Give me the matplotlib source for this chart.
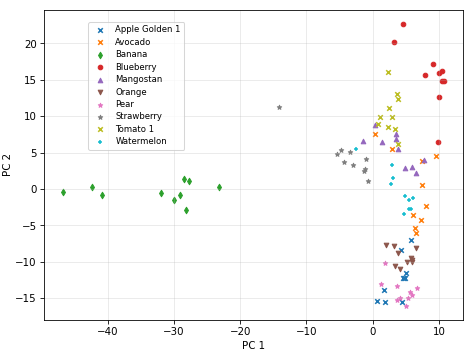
import matplotlib
matplotlib.use("Agg")
import matplotlib.pyplot as plt

# PCA projection of fruit image features, one list pair per class
apple_x = [5.8, 4.2, 4.96, 4.6, 4.85, 4.7, 1.65, 0.7, 1.85, 4.4]
apple_y = [-6.95, -8.45, -11.5, -12.25, -12.25, -12.3, -13.9, -15.45, -15.55, -15.55]

avocado_x = [0.4, 2.96, 9.5, 7.4, 7.37, 8.0, 6.1, 7.27, 6.3, 6.47]
avocado_y = [7.57, 5.56, 4.56, 3.83, 0.5, -2.28, -3.6, -4.29, -5.38, -6.06]

banana_x = [-46.7, -42.3, -40.9, -32.0, -30.0, -29.1, -28.4, -27.7, -28.2, -23.2]
banana_y = [-0.36, 0.31, -0.77, -0.55, -1.5, -0.77, 1.33, 1.1, -2.83, 0.31]

blueberry_x = [4.56, 3.16, 9.1, 7.9, 10.0, 10.45, 10.5, 10.7, 10.0, 9.85]
blueberry_y = [22.7, 20.15, 17.2, 15.7, 15.96, 16.2, 14.8, 14.9, 12.7, 6.47]

mangostan_x = [0.4, -1.45, 1.4, 3.5, 3.46, 3.76, 7.8, 4.8, 5.86, 6.57]
mangostan_y = [8.75, 6.57, 6.47, 7.5, 6.93, 5.43, 3.97, 2.83, 3.05, 2.23]

orange_x = [2.0, 3.18, 3.8, 6.48, 5.8, 5.9, 5.1, 5.97, 3.35, 4.13]
orange_y = [-7.7, -7.78, -8.8, -8.1, -9.45, -9.7, -10.0, -10.05, -10.6, -10.95]

pear_x = [1.8, 1.3, 3.63, 6.63, 5.58, 5.88, 5.3, 4.16, 3.7, 4.96]
pear_y = [-10.2, -13.08, -13.3, -13.65, -14.1, -14.58, -14.92, -15.02, -15.2, -16.05]

strawberry_x = [-14.2, -5.46, -4.8, -3.4, -4.3, -3.05, -1.05, -1.35, -1.2, -0.65]
strawberry_y = [11.26, 4.75, 5.3, 5.06, 3.73, 3.33, 4.06, 2.5, 2.7, 1.14]

tomato_x = [2.3, 3.65, 3.76, 2.4, 1.1, 2.9, 0.75, 2.36, 3.4, 3.8]
tomato_y = [16.1, 13.0, 12.3, 11.2, 9.85, 9.85, 9.0, 8.5, 8.3, 6.25]

watermelon_x = [-2.45, 2.96, 3.06, 2.7, 4.9, 5.5, 6.0, 5.4, 5.75, 4.75]
watermelon_y = [5.47, 3.24, 1.55, 0.73, -0.9, -1.5, -1.2, -2.75, -2.7, -3.45]

classes = [
    ("Apple Golden 1", apple_x, apple_y, "x"),
    ("Avocado", avocado_x, avocado_y, "x"),
    ("Banana", banana_x, banana_y, "d"),
    ("Blueberry", blueberry_x, blueberry_y, "o"),
    ("Mangostan", mangostan_x, mangostan_y, "^"),
    ("Orange", orange_x, orange_y, "v"),
    ("Pear", pear_x, pear_y, "*"),
    ("Strawberry", strawberry_x, strawberry_y, "*"),
    ("Tomato 1", tomato_x, tomato_y, "x"),
    ("Watermelon", watermelon_x, watermelon_y, "+"),
]

fig, ax = plt.subplots(figsize=(6.4, 4.8), dpi=74)
for i, (name, xs, ys, m) in enumerate(classes):
    ax.scatter(xs, ys, marker=m, s=20, color=f"C{i}", label=name)

ax.set_xlabel("PC 1")
ax.set_ylabel("PC 2", labelpad=2)
ax.grid(alpha=0.3)
ax.legend(loc="upper left", bbox_to_anchor=(0.105, 0.961), borderaxespad=0,
          fontsize="small", labelspacing=0.4)
fig.subplots_adjust(left=0.093, right=0.977, top=0.972, bottom=0.099)
fig.savefig("out.png", dpi=74)
